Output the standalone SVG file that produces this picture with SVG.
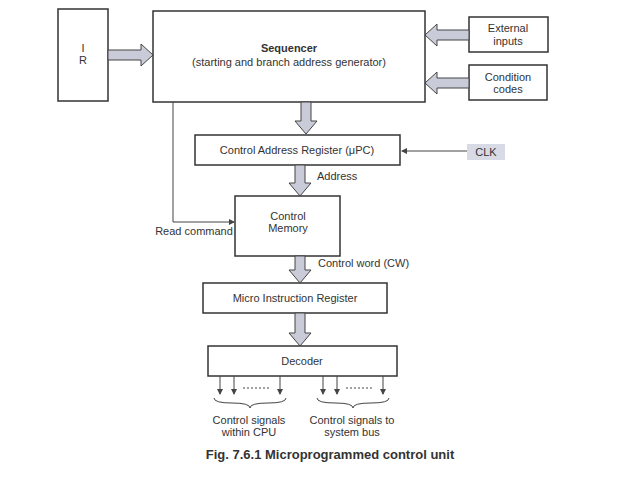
<svg xmlns="http://www.w3.org/2000/svg" width="638" height="478" viewBox="0 0 638 478">
<style>
.b{fill:#fff;stroke:#333;stroke-width:1.5}
.f{fill:#c9ccd8;stroke:#444;stroke-width:1}
.t{font-family:"Liberation Sans",Arial,sans-serif;font-size:11px;fill:#333;text-anchor:middle}
.s{text-anchor:start}
.l{stroke:#444;stroke-width:1;fill:none}
</style>
<defs>
<marker id="a" markerWidth="6" markerHeight="6" refX="5" refY="3" orient="auto"><path d="M0,0 L6,3 L0,6 z" fill="#444"/></marker>
</defs>
<rect width="638" height="478" fill="#fff"/>
<g id="ir"><rect class="b" x="58" y="9" width="50" height="92"/><text class="t" x="83" y="52">I</text><text class="t" x="83" y="64">R</text></g>
<g id="seq"><rect class="b" x="153" y="11" width="272" height="91"/><text class="t" x="289" y="52" font-weight="bold">Sequencer</text><text class="t" x="289" y="66">(starting and branch address generator)</text></g>
<g id="ext"><rect class="b" x="469" y="17" width="79" height="35"/><text class="t" x="508" y="32">External</text><text class="t" x="508" y="45">inputs</text></g>
<g id="cond"><rect class="b" x="469" y="65" width="78" height="35"/><text class="t" x="508" y="81">Condition</text><text class="t" x="508" y="93">codes</text></g>
<g id="car"><rect class="b" x="195" y="135" width="205" height="30"/><text class="t" x="297" y="154">Control Address Register (μPC)</text></g>
<g id="clk"><rect x="467" y="144" width="38" height="16" fill="#d8dbe6"/><text class="t" x="486" y="156">CLK</text></g>
<g id="cm"><rect class="b" x="235" y="196" width="105" height="60"/><text class="t" x="288" y="220">Control</text><text class="t" x="288" y="232">Memory</text></g>
<g id="mir"><rect class="b" x="203" y="283" width="184" height="30"/><text class="t" x="295" y="302">Micro Instruction Register</text></g>
<g id="dec"><rect class="b" x="208" y="346" width="189" height="30"/><text class="t" x="302" y="365">Decoder</text></g>
<g id="connectors">
<path class="f" d="M108,50 H141 V44 L153,55 L141,66 V60 H108 Z"/>
<path class="f" d="M469,30 H437 V24 L425,35 L437,46 V40 H469 Z"/>
<path class="f" d="M469,78 H437 V72 L425,83 L437,94 V88 H469 Z"/>
<path class="f" d="M301,102 V121 H295 L306,134 L317,121 H311 V102 Z"/>
<path class="f" d="M295,165 V183 H289 L300,196 L311,183 H305 V165 Z"/>
<path class="f" d="M295,256 V270 H289 L300,283 L311,270 H305 V256 Z"/>
<path class="f" d="M295,313 V333 H289 L300,346 L311,333 H305 V313 Z"/>
<path class="l" d="M467,151 H402" marker-end="url(#a)"/>
<path class="l" d="M173,102 V222 H234" marker-end="url(#a)"/>
<path class="l" d="M220,376 V394" marker-end="url(#a)"/>
<path class="l" d="M234,376 V394" marker-end="url(#a)"/>
<path class="l" d="M280,376 V394" marker-end="url(#a)"/>
<path class="l" d="M323,376 V394" marker-end="url(#a)"/>
<path class="l" d="M337,376 V394" marker-end="url(#a)"/>
<path class="l" d="M383,376 V394" marker-end="url(#a)"/>
<path class="l" d="M243,388 H270 M346,388 H373" stroke-dasharray="2,2"/>
<path class="l" d="M214,398 q0,5 18,5 t18,5 q0,-5 18,-5 t18,-5 M317,398 q0,5 18,5 t18,5 q0,-5 18,-5 t18,-5"/>
</g>
<text class="t s" x="317" y="180">Address</text>
<text class="t" x="194" y="235">Read command</text>
<text class="t s" x="318" y="267">Control word (CW)</text>
<text class="t" x="249" y="424">Control signals</text>
<text class="t" x="249" y="436">within CPU</text>
<text class="t" x="352" y="424">Control signals to</text>
<text class="t" x="352" y="436">system bus</text>
<text class="t" x="330" y="459" font-weight="bold" style="font-size:13px">Fig. 7.6.1 Microprogrammed control unit</text>
</svg>
